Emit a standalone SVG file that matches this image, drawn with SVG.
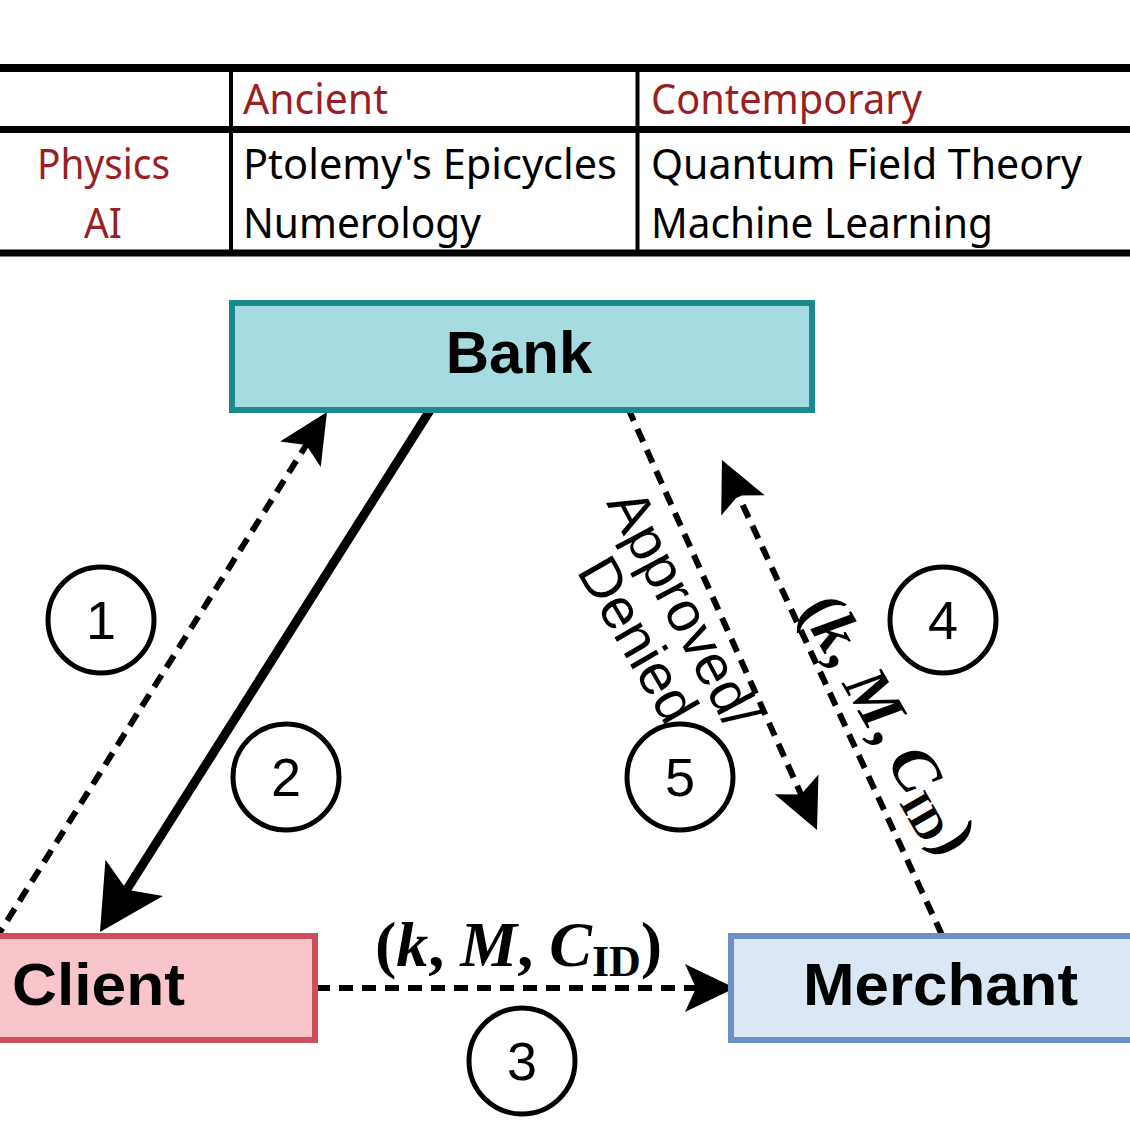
<svg xmlns="http://www.w3.org/2000/svg" width="1130" height="1130" viewBox="0 0 1130 1130">
<style>
.tbl{fill:none;stroke:#000;}
.hd{font-family:"Noto Sans","Open Sans",sans-serif;font-size:42px;fill:#9a1f24;}
.cell{font-family:"Noto Sans","Open Sans",sans-serif;font-size:42px;fill:#000;}
.node-label{font-family:"Liberation Sans",Arial,sans-serif;font-weight:bold;font-size:60px;fill:#000;}
.num{font-family:"Liberation Sans",Arial,sans-serif;font-size:54px;fill:#000;text-anchor:middle;}
.ring{fill:#fff;stroke:#000;stroke-width:5;}
.dash{fill:none;stroke:#000;stroke-width:6;stroke-dasharray:14 9;}
.solid{fill:none;stroke:#000;stroke-width:9;}
.math{font-family:"Liberation Serif","Times New Roman",serif;font-weight:bold;font-size:64px;fill:#000;}
.rot{font-family:"Liberation Sans",Arial,sans-serif;font-size:57px;fill:#000;}
</style>
<defs>
<marker id="headS" markerUnits="userSpaceOnUse" orient="auto" refX="0" refY="0" markerWidth="120" markerHeight="120" viewBox="-60 -60 120 120" overflow="visible">
<path d="M30,0 L-34,-34 L-20,0 L-34,34 Z" fill="#000"/>
</marker>
<marker id="headD" markerUnits="userSpaceOnUse" orient="auto" refX="0" refY="0" markerWidth="100" markerHeight="100" viewBox="-50 -50 100 100" overflow="visible">
<path d="M22,0 L-28,-24 L-17,0 L-28,24 Z" fill="#000"/>
</marker>
</defs>
<rect width="1130" height="1130" fill="#fff"/>

<g id="table">
<line class="tbl" x1="0" y1="68" x2="1130" y2="68" stroke-width="8"/>
<line class="tbl" x1="0" y1="129.5" x2="1130" y2="129.5" stroke-width="7"/>
<line class="tbl" x1="0" y1="253" x2="1130" y2="253" stroke-width="7"/>
<line class="tbl" x1="231" y1="68" x2="231" y2="253" stroke-width="4"/>
<line class="tbl" x1="637.5" y1="68" x2="637.5" y2="253" stroke-width="4"/>
<text class="hd" x="243" y="114" textLength="145" lengthAdjust="spacingAndGlyphs">Ancient</text>
<text class="hd" x="651" y="114" textLength="271" lengthAdjust="spacingAndGlyphs">Contemporary</text>
<text class="hd" x="37" y="179" textLength="133" lengthAdjust="spacingAndGlyphs">Physics</text>
<text class="hd" x="84" y="238" textLength="38" lengthAdjust="spacingAndGlyphs">AI</text>
<text class="cell" x="243" y="179" textLength="374" lengthAdjust="spacingAndGlyphs">Ptolemy's Epicycles</text>
<text class="cell" x="651" y="179" textLength="431" lengthAdjust="spacingAndGlyphs">Quantum Field Theory</text>
<text class="cell" x="243" y="238" textLength="238" lengthAdjust="spacingAndGlyphs">Numerology</text>
<text class="cell" x="651" y="238" textLength="342" lengthAdjust="spacingAndGlyphs">Machine Learning</text>
</g>

<g id="connectors">
<line id="c1" class="dash" x1="-5" y1="940" x2="315.3" y2="430.6" marker-end="url(#headD)"/>
<line id="c2" class="solid" x1="434" y1="404" x2="116" y2="906.6" marker-end="url(#headS)"/>
<line id="c3" class="dash" x1="316" y1="988" x2="713" y2="988" marker-end="url(#headD)"/>
<line id="c4" class="dash" x1="942" y1="935" x2="731.2" y2="480" marker-end="url(#headD)"/>
<line id="c5" class="dash" x1="628" y1="408" x2="808" y2="809.9" marker-end="url(#headD)"/>
<text class="math" x="375" y="966">(<tspan font-style="italic">k</tspan>, <tspan font-style="italic">M</tspan>, <tspan font-style="italic">C</tspan><tspan font-size="44" dy="10">ID</tspan><tspan dy="-10">)</tspan></text>
<text class="math" transform="translate(799,610) rotate(60)">(<tspan font-style="italic">k</tspan>, <tspan font-style="italic">M</tspan>, <tspan font-style="italic">C</tspan><tspan font-size="44" dy="10">ID</tspan><tspan dy="-10">)</tspan></text>
<text class="rot" transform="translate(606,503) rotate(62)">Approved/</text>
<text class="rot" transform="translate(576,571) rotate(60)">Denied</text>
</g>

<g id="bank">
<rect x="232" y="303" width="580" height="107" fill="#a6dce1" stroke="#1a8a8c" stroke-width="6"/>
<text class="node-label" x="519" y="373" text-anchor="middle">Bank</text>
</g>
<g id="client">
<rect x="-10" y="936" width="325" height="104" fill="#f7c5ca" stroke="#cc4f5b" stroke-width="6"/>
<text class="node-label" x="12" y="1005" textLength="173" lengthAdjust="spacingAndGlyphs">Client</text>
</g>
<g id="merchant">
<rect x="731" y="936" width="410" height="104" fill="#dbe7f5" stroke="#6a90c6" stroke-width="6"/>
<text class="node-label" x="803" y="1005" textLength="275" lengthAdjust="spacingAndGlyphs">Merchant</text>
</g>

<g id="step1"><circle class="ring" cx="101" cy="620" r="53"/><text class="num" x="101" y="639">1</text></g>
<g id="step2"><circle class="ring" cx="286" cy="777" r="53"/><text class="num" x="286" y="796">2</text></g>
<g id="step3"><circle class="ring" cx="522" cy="1061" r="53"/><text class="num" x="522" y="1080">3</text></g>
<g id="step4"><circle class="ring" cx="943" cy="620" r="53"/><text class="num" x="943" y="639">4</text></g>
<g id="step5"><circle class="ring" cx="680" cy="777" r="53"/><text class="num" x="680" y="796">5</text></g>
</svg>
